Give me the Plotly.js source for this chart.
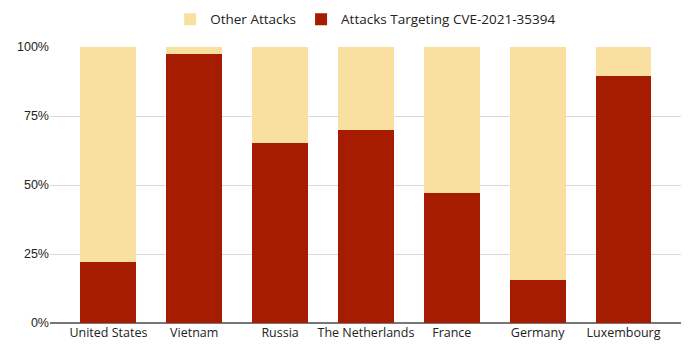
<!DOCTYPE html>
<html>
<head>
<meta charset="utf-8">
<script src="https://cdn.plot.ly/plotly-3.0.1.min.js"></script>
<style>html,body{margin:0;padding:0;background:#fff}#chart{width:690px;height:355px}</style>
</head>
<body>
<div id="chart"></div>
<script>
const countries = ["United States", "Vietnam", "Russia", "The Netherlands", "France", "Germany", "Luxembourg"];
const cveAttacks = [22, 97.6, 65.3, 70, 47.2, 15.5, 89.5];
const otherAttacks = [78, 2.4, 34.7, 30, 52.8, 84.5, 10.5];
const yTicks = [0, 25, 50, 75, 100];
const yTickLabels = ["0%", "25%", "50%", "75%", "100%"];

const traces = [
  {type: "bar", name: "Attacks Targeting CVE-2021-35394", x: countries, y: cveAttacks,
   marker: {color: "#a61c00", line: {width: 0}}, hoverinfo: "x+y"},
  {type: "bar", name: "Other Attacks", x: countries, y: otherAttacks,
   marker: {color: "#f9e0a0", line: {width: 0}}, hoverinfo: "x+y"}
];

const layout = {
  width: 690, height: 355,
  margin: {l: 50, r: 9, t: 47, b: 32},
  paper_bgcolor: "#fff", plot_bgcolor: "#fff",
  barmode: "stack", bargap: 0.35,
  showlegend: true,
  legend: {orientation: "h", x: 0.53, xanchor: "center", xref: "container",
           y: 0.989, yanchor: "top", yref: "container", traceorder: "reversed",
           font: {family: "'Open Sans', sans-serif", size: 13.5, color: "#222"},
           itemwidth: 30, tracegroupgap: 0},
  xaxis: {type: "category", range: [-0.68, 6.67], showgrid: false, zeroline: false,
          showline: false, ticks: "",
          tickfont: {family: "'Open Sans', sans-serif", size: 12.5, color: "#222"}},
  yaxis: {range: [0, 100], tickvals: yTicks, ticktext: yTickLabels,
          showgrid: true, gridcolor: "#d9d9d9", gridwidth: 1,
          zeroline: true, zerolinecolor: "#777", zerolinewidth: 1.2,
          showline: false, ticks: "",
          tickfont: {family: "'Liberation Sans', Arial, sans-serif", size: 12.5, color: "#222"}}
};

Plotly.newPlot("chart", traces, layout, {displayModeBar: false, staticPlot: true});
</script>
</body>
</html>
